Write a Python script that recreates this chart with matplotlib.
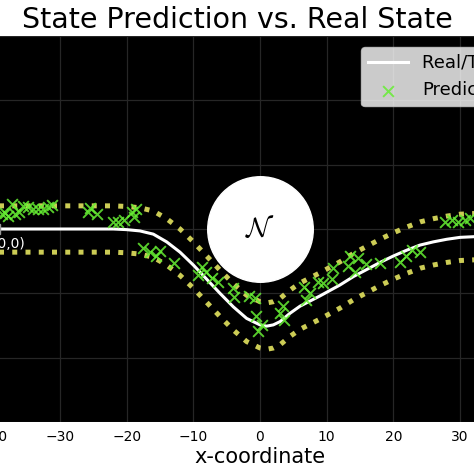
import numpy as np
import matplotlib
matplotlib.use("Agg")
import matplotlib.pyplot as plt

plt.rcParams['mathtext.fontset'] = 'cm'

# Real / true trajectory
real_x = [-45, -40, -30, -22, -20, -18, -16, -14, -12, -10, -8, -6, -4, -2, 0, 1, 2, 3,
          4.5, 6, 7.5, 9, 12, 14, 16, 18, 20, 22, 24, 26, 28, 30, 32, 35, 40]
real_y = [0, 0, 0, 0, -0.1, -0.3, -0.8, -2.0, -3.6, -5.6, -7.8, -10.0, -12.1, -13.9, -14.9,
          -15.1, -14.9, -14.4, -13.1, -12.0, -11.2, -10.4, -8.7, -7.4, -6.3, -5.2, -4.2,
          -3.3, -2.5, -2.0, -1.6, -1.3, -1.2, -1.0, -0.9]
band = 3.6

# Predictions
pred_x = [-38.7, -38.2, -37.8, -37.2, -36.8, -36.1, -35.5, -34.8, -34.0, -33.3, -32.5, -31.8,
          -31.2, -25.8, -25.5, -24.5, -22.0, -21.3, -20.4, -19.2, -18.6, -18.9, -17.5, -16.5,
          -15.6, -15.0, -12.9, -9.3, -8.7, -8.1, -7.2, -6.3, -4.1, -3.9, -1.7, -0.75, -0.6,
          0.3, -0.3, 3.5, 3.0, 3.6, 6.6, 7.5, 6.9, 8.7, 9.5, 11.0, 10.8, 13.5, 13.2, 14.3,
          14.7, 15.9, 18.0, 21.0, 21.9, 22.8, 24.0, 27.7, 28.8, 29.7, 30.7, 31.5]
pred_y = [2.3, 2.5, 2.0, 3.9, 2.3, 2.6, 3.6, 3.4, 3.1, 3.1, 3.1, 3.4,
          3.7, 2.6, 3.3, 2.3, 1.1, 1.1, 1.4, 2.6, 3.1, 1.9, -3.0, -3.6,
          -4.2, -3.4, -5.3, -7.2, -5.9, -6.7, -7.6, -8.2, -9.2, -10.6, -10.4, -10.7, -13.5,
          -14.9, -15.9, -12.0, -13.1, -14.2, -9.0, -10.0, -11.0, -8.2, -8.4, -6.1, -7.8, -4.2, -5.8, -6.7,
          -4.5, -5.4, -5.3, -5.1, -4.2, -3.3, -3.6, 1.1, 1.4, 1.1, 1.4, 1.7]

xticks = [-40, -30, -20, -10, 0, 10, 20, 30, 40]

fig = plt.figure(figsize=(4.74, 4.74), dpi=100)
W = H = 474
ax_left_px = 260 - 50 * 6.667
ax = fig.add_axes([ax_left_px / W, 52 / H, 100 * 6.667 / W, 386 / H])
ax.set_facecolor('black')
ax.set_xlim(-50, 50)
ax.set_ylim(-30, 30)
ax.set_xticks(xticks)
ax.set_yticks([-30, -20, -10, 0, 10, 20, 30])
ax.grid(True, color='#262626', linewidth=0.9)
ax.set_axisbelow(True)
ax.tick_params(axis='both', length=0, labelsize=10)
ax.tick_params(axis='x', pad=6)
for s in ax.spines.values():
    s.set_visible(False)

ry = np.array(real_y)
ax.plot(real_x, ry + band, linestyle=':', color='#cccc55', linewidth=3.6, zorder=2)
ax.plot(real_x, ry - band, linestyle=':', color='#cccc55', linewidth=3.6, zorder=2)
ax.plot(real_x, real_y, color='white', linewidth=2.2, zorder=3, label='Real/True Trajectory')
ax.scatter(pred_x, pred_y, marker='x', color='#66ee33', s=60, linewidths=1.4, alpha=0.85,
           zorder=4, label='Predictions')

# obstacle
ax.plot([0], [0], 'o', color='white', markersize=76, zorder=5)
ax.text(0, 0, r'$\mathcal{N}$', ha='center', va='center', fontsize=20, zorder=6)

# start marker
ax.plot([-39.7], [0], 's', color='#999999', markersize=7, zorder=6)
ax.text(-40.1, -1.3, '(0,0)', ha='left', va='top', color='white', fontsize=10, zorder=6)

ax.set_xlabel('x-coordinate', fontsize=15, labelpad=2)

leg = fig.legend(loc='upper left', bbox_to_anchor=(361 / W, 1 - 47 / H), fontsize=13,
                 handlelength=2.2, borderpad=0.4, labelspacing=0.5, framealpha=0.8,
                 borderaxespad=0)

fig.text(0.5, 1 - 20 / H, 'State Prediction vs. Real State', ha='center', va='center',
         fontsize=20.5)

fig.savefig('out.png', dpi=100)
